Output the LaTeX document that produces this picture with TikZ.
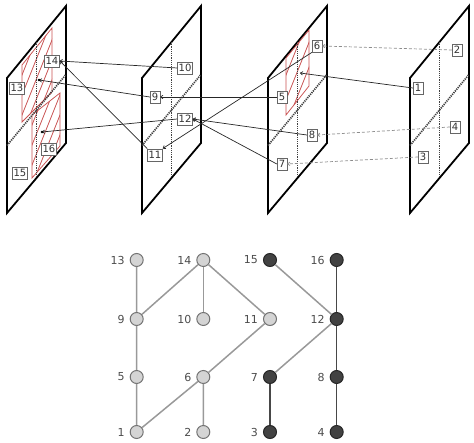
\documentclass[tikz,border=0pt]{standalone}
\usepackage{fontspec}
\setmainfont{DejaVu Sans}
\usetikzlibrary{arrows.meta}
\definecolor{hatchred}{RGB}{200,80,80}
\definecolor{lightnode}{RGB}{212,212,212}
\definecolor{darknode}{RGB}{66,66,66}
\begin{document}
\begin{tikzpicture}[x=1pt,y=-1pt,
    plane/.style={line width=1.8pt},
    midline/.style={dash pattern=on 1.2pt off 1pt,line width=1.7pt,black!75},
    cell/.style={draw=black!60,fill=white,text=black!80,font=\fontsize{10}{11}\selectfont,inner sep=1.2pt,minimum height=12.5pt,minimum width=10pt},
    link/.style={-{To[length=3pt,width=4pt]},line width=0.7pt,black!85},
    far/.style={link,densely dashed,black!45},
    hatch/.style={hatchred,line width=0.75pt},
    vtx/.style={circle,draw=black!55,fill=lightnode,line width=1pt,minimum size=13pt,inner sep=0pt,
        label={[text=black!70,font=\fontsize{11}{12}\selectfont,label distance=1.5pt]left:#1}},
    dvtx/.style={vtx=#1,draw=black!85,fill=darknode},
    tie/.style={line width=1.5pt,black!40},
    dtie/.style={line width=1.5pt,black!72}]
    \useasboundingbox (0,0) rectangle (474,443);

    % the four planes
    \foreach \l in {7,142,268,410} {
        \draw[plane] (\l,78) -- (\l+59,6) -- (\l+59,143) -- (\l,213) -- cycle;
    }

    % hatched regions
    \begin{scope}
        \clip (22,122) -- (52,92) -- (52,28) -- (22,65) -- cycle;
        \foreach \k in {-40,-32,...,40} \draw[hatch] (\k,190) -- ++(80,-200);
    \end{scope}
    \draw[hatch] (22,122) -- (52,92) -- (52,28) -- (22,65) -- cycle;
    \begin{scope}
        \clip (32,178) -- (60,146) -- (60,93) -- (32,115) -- cycle;
        \foreach \k in {-30,-22,...,50} \draw[hatch] (\k,220) -- ++(80,-200);
    \end{scope}
    \draw[hatch] (32,178) -- (60,146) -- (60,93) -- (32,115) -- cycle;
    \begin{scope}
        \clip (286,115) -- (309,86) -- (309,30) -- (286,58) -- cycle;
        \foreach \k in {240,250,...,290} \draw[hatch] (\k,190) -- ++(80,-200);
    \end{scope}
    \draw[hatch] (286,115) -- (309,86) -- (309,30) -- (286,58) -- cycle;

    \foreach \l in {7,142,268,410} {
        \draw[midline] (\l+29.5,42) -- (\l+29.5,178);
        \draw[midline] (\l,145.5) -- (\l+59,74.5);
    }

    % cells
    \node[cell] (c13) at (17,88) {13};
    \node[cell] (c14) at (52,61) {14};
    \node[cell] (c15) at (20,173) {15};
    \node[cell] (c16) at (49,149) {16};
    \node[cell] (c10) at (185,68) {10};
    \node[cell] (c9) at (155,97) {9};
    \node[cell] (c12) at (185,119) {12};
    \node[cell] (c11) at (155,155) {11};
    \node[cell] (c6) at (317,46) {6};
    \node[cell] (c5) at (282,97) {5};
    \node[cell] (c8) at (312,135) {8};
    \node[cell] (c7) at (282,164) {7};
    \node[cell] (c2) at (457,50) {2};
    \node[cell] (c1) at (418,88) {1};
    \node[cell] (c4) at (455,127) {4};
    \node[cell] (c3) at (423,157) {3};

    \coordinate (pA) at (39,80);
    \coordinate (pB) at (42,132);
    \coordinate (pC) at (300,73);

    % links between planes
    \draw[far] (c2.west) -- (c6.east);
    \draw[far] (c4.west) -- (c8.east);
    \draw[far] (c3.west) -- (c7.east);
    \draw[link] (c1.west) -- (pC);
    \draw[link] (c5.west) -- (c9.east);
    \draw[link] (c6.south west) -- (c11.north east);
    \draw[link] (c8.west) -- (c12.east);
    \draw[link] (c7.west) -- (c12.east);
    \draw[link] (c10.west) -- (c14.east);
    \draw[link] (c11.north west) -- (c14.east);
    \draw[link] (c9.west) -- (pA);
    \draw[link] (c12.west) -- (pB);
    \fill (pA) circle (1.3pt);
    \fill (pB) circle (1.3pt);

    % the graph
    \node[vtx=13] (g13) at (136.7,260) {};
    \node[vtx=14] (g14) at (203.3,260) {};
    \node[dvtx=15] (g15) at (270,260) {};
    \node[dvtx=16] (g16) at (336.7,260) {};
    \node[vtx=9] (g9) at (136.7,319) {};
    \node[vtx=10] (g10) at (203.3,319) {};
    \node[vtx=11] (g11) at (270,319) {};
    \node[dvtx=12] (g12) at (336.7,319) {};
    \node[vtx=5] (g5) at (136.7,377) {};
    \node[vtx=6] (g6) at (203.3,377) {};
    \node[dvtx=7] (g7) at (270,377) {};
    \node[dvtx=8] (g8) at (336.7,377) {};
    \node[vtx=1] (g1) at (136.7,432) {};
    \node[vtx=2] (g2) at (203.3,432) {};
    \node[dvtx=3] (g3) at (270,432) {};
    \node[dvtx=4] (g4) at (336.7,432) {};

    \draw[tie] (g13) -- (g9) -- (g5) -- (g1) -- (g6) -- (g2);
    \draw[tie] (g6) -- (g11) -- (g14) -- (g9);
    \draw[tie] (g14) -- (g10);
    \draw[tie] (g15) -- (g12) -- (g7);
    \draw[dtie] (g16) -- (g12) -- (g8) -- (g4);
    \draw[dtie] (g7) -- (g3);
\end{tikzpicture}
\end{document}
